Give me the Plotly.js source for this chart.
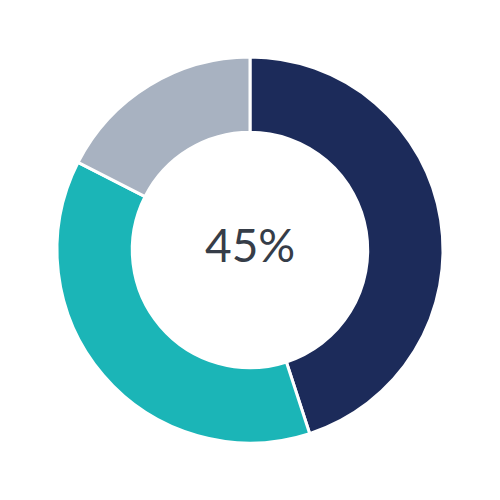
<!DOCTYPE html>
<html>
<head>
<meta charset="utf-8">
<script src="https://cdn.plot.ly/plotly-3.0.1.min.js"></script>
<style>
  html, body { margin: 0; padding: 0; background: #fff; }
  #chart { width: 500px; height: 500px; }
</style>
</head>
<body>
<div id="chart"></div>
<script>
// slice values, clockwise from 12 o'clock
const labels = ['Navy', 'Teal', 'Gray'];
const values = [45, 37.5, 17.5];
const colors = ['#1c2b5a', '#1bb5b7', '#a8b2c1'];
const centerLabel = '45%';

const trace = {
    type: 'pie',
    labels: labels,
    values: values,
    hole: 0.61,
    sort: false,
    direction: 'clockwise',
    rotation: 0,
    textinfo: 'none',
    hoverinfo: 'none',
    marker: { colors: colors, line: { color: '#ffffff', width: 3 } }
};

const layout = {
    width: 500,
    height: 500,
    margin: { l: 57, r: 57, t: 57, b: 57 },
    showlegend: false,
    paper_bgcolor: '#ffffff',
    annotations: [{
        text: centerLabel,
        x: 0.5, y: 0.515,
        xref: 'paper', yref: 'paper',
        showarrow: false,
        font: { family: 'Lato, sans-serif', size: 46, color: '#363d48' }
    }]
};

Plotly.newPlot('chart', [trace], layout, { staticPlot: true });
</script>
</body>
</html>
